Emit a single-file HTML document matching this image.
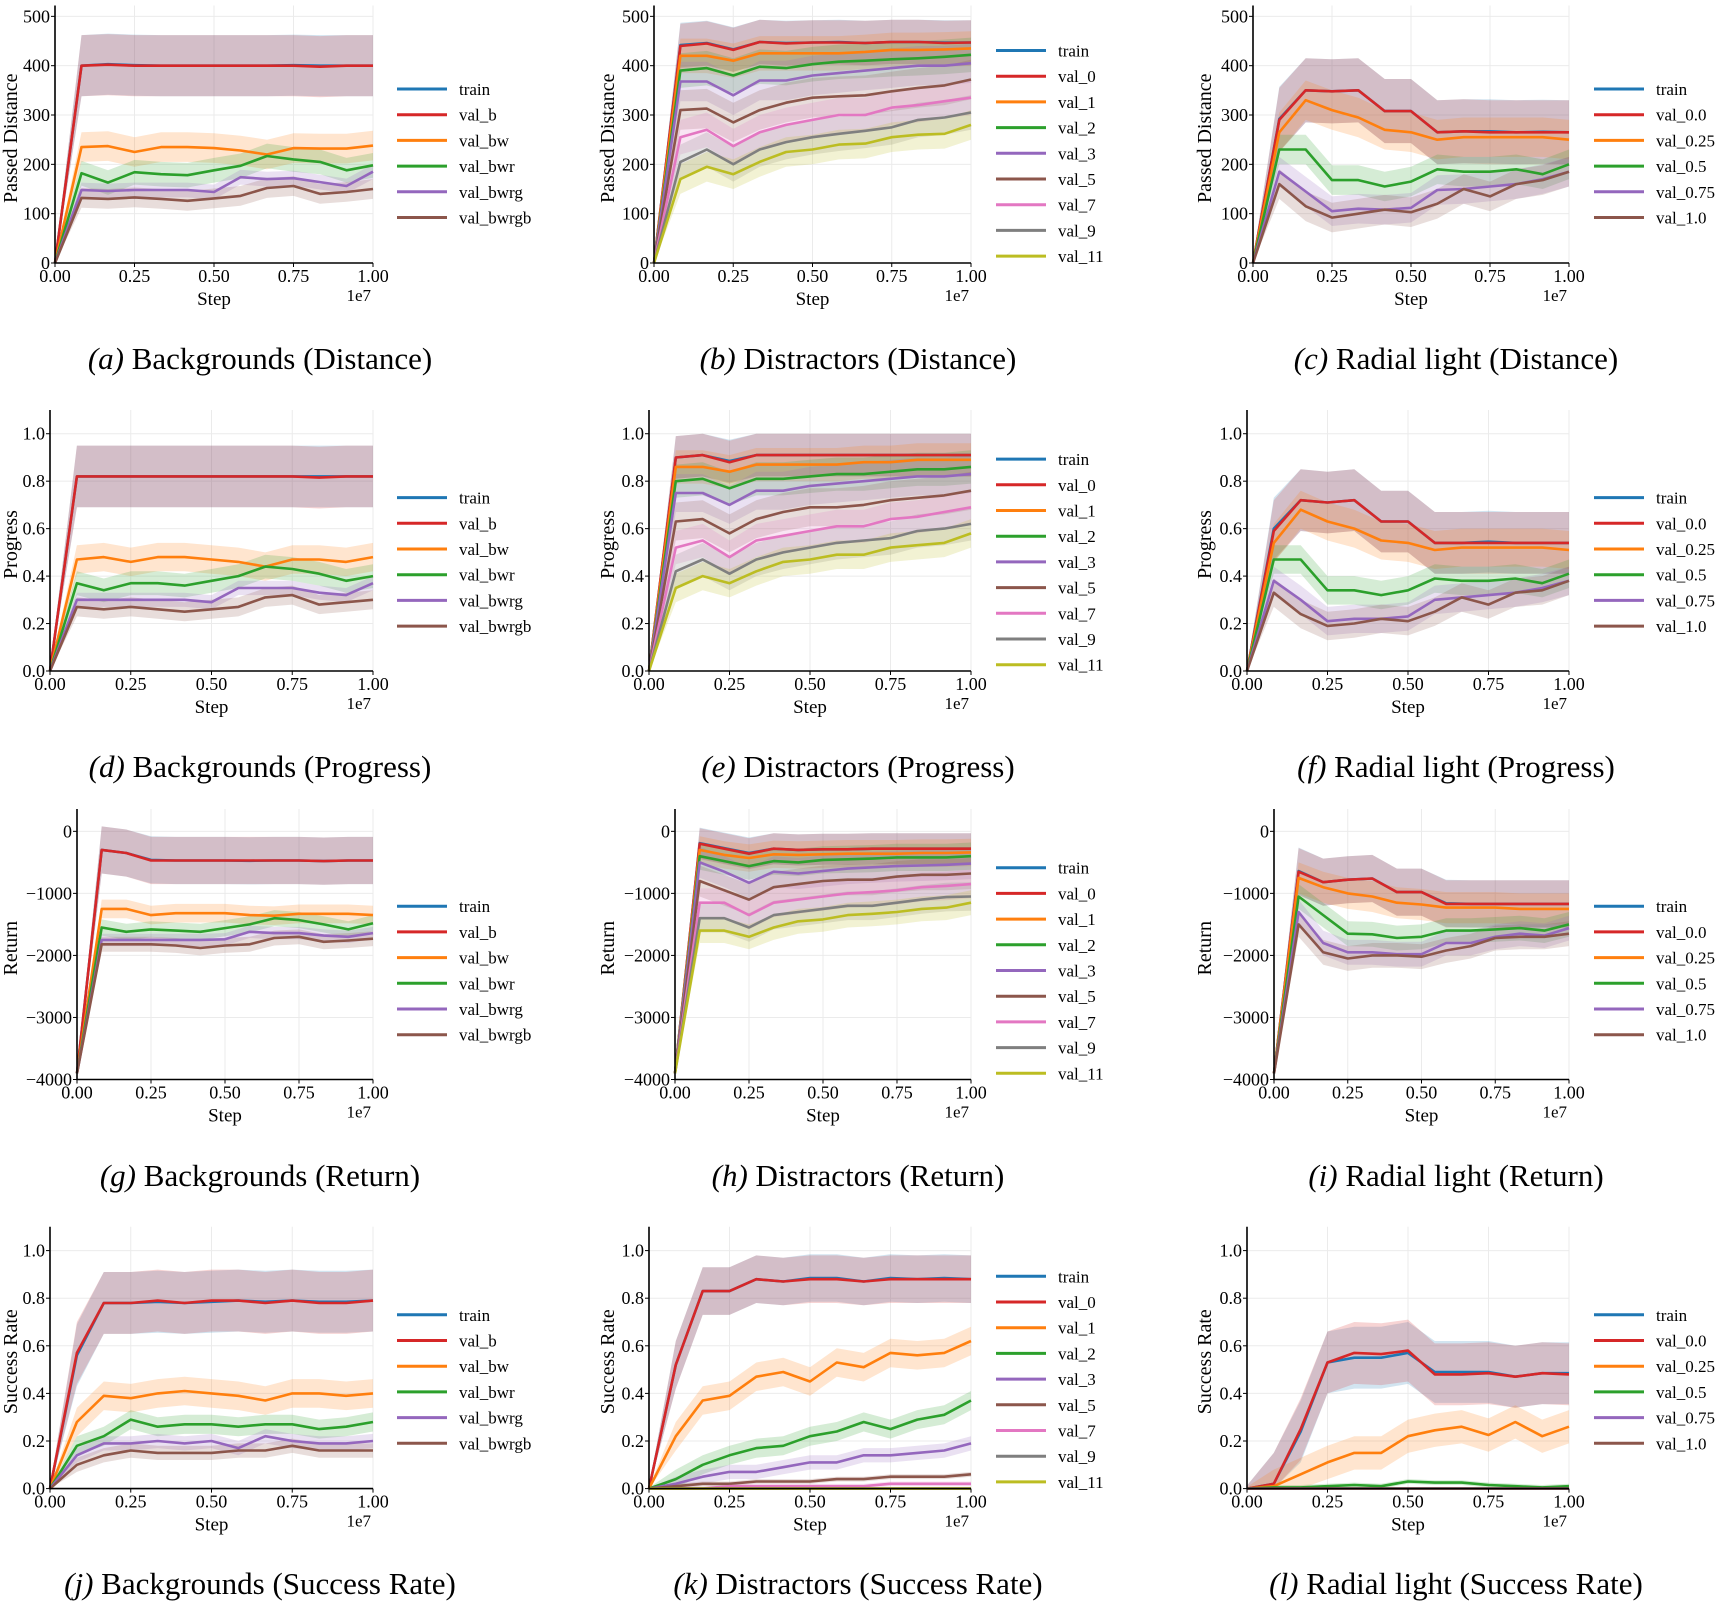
<!DOCTYPE html>
<html><head><meta charset="utf-8">
<style>
html,body{margin:0;padding:0;background:#fff;}
svg{display:block;font-family:"Liberation Serif",serif;}
</style></head>
<body>
<svg id="fig" width="1720" height="1603" viewBox="0 0 1720 1603" xmlns="http://www.w3.org/2000/svg"></svg>
<script>
const stepsX = [0,0.0833,0.1667,0.25,0.3333,0.4167,0.5,0.5833,0.6667,0.75,0.8333,0.9167,1.0];
const bgNames = ['train','val_b','val_bw','val_bwr','val_bwrg','val_bwrgb'];
const dsNames = ['train','val_0','val_1','val_2','val_3','val_5','val_7','val_9','val_11'];
const rlNames = ['train','val_0.0','val_0.25','val_0.5','val_0.75','val_1.0'];

// (a) Backgrounds distance
const aVals = [
 [0,400,403,401,400,400,400,400,400,401,400,400,400],
 [0,400,402,400,400,400,400,400,400,400,398,400,400],
 [0,235,237,225,235,235,233,228,220,233,232,232,238],
 [0,182,163,184,180,178,188,197,217,210,205,188,198],
 [0,148,146,148,148,148,144,174,170,172,164,156,185],
 [0,132,130,133,130,126,131,136,152,156,140,144,150]];
const aBand = [62,62,30,25,15,20];
// (b) Distractors distance
const bVals = [
 [0,442,446,433,448,446,447,448,446,448,448,447,447],
 [0,440,445,432,448,445,447,447,446,448,448,446,447],
 [0,420,420,410,425,425,425,425,428,432,432,433,435],
 [0,390,395,380,398,395,403,408,410,413,415,418,422],
 [0,368,368,340,370,370,380,385,390,395,400,400,405],
 [0,310,313,285,310,325,335,338,340,348,355,360,372],
 [0,255,270,237,265,280,290,300,300,315,320,328,335],
 [0,205,230,200,230,245,255,262,268,275,290,295,305],
 [0,170,195,180,205,225,230,240,242,255,260,262,280]];
const bBand = [45,45,35,35,40,40,35,35,30];
// (c) Radial distance
const cVals = [
 [0,292,350,348,350,308,308,265,267,267,265,266,265],
 [0,290,350,348,350,308,308,265,267,265,265,265,265],
 [0,265,330,310,295,270,265,250,255,255,255,255,250],
 [0,230,230,168,168,155,165,190,185,185,190,180,200],
 [0,185,145,105,110,108,112,148,150,155,160,170,185],
 [0,160,115,92,100,108,103,120,150,135,160,168,185]];
const cBand = [65,65,40,30,30,30];
// (d) Backgrounds progress
const dVals = [
 [0,0.82,0.82,0.82,0.82,0.82,0.82,0.82,0.82,0.82,0.82,0.82,0.82],
 [0,0.82,0.82,0.82,0.82,0.82,0.82,0.82,0.82,0.82,0.815,0.82,0.82],
 [0,0.47,0.48,0.46,0.48,0.48,0.47,0.46,0.44,0.47,0.47,0.46,0.48],
 [0,0.37,0.34,0.37,0.37,0.36,0.38,0.40,0.44,0.43,0.41,0.38,0.40],
 [0,0.30,0.30,0.30,0.30,0.30,0.29,0.35,0.35,0.35,0.33,0.32,0.37],
 [0,0.27,0.26,0.27,0.26,0.25,0.26,0.27,0.31,0.32,0.28,0.29,0.30]];
const dBand = [0.13,0.13,0.06,0.05,0.03,0.04];
// (e) Distractors progress
const eVals = [
 [0,0.90,0.91,0.885,0.91,0.91,0.91,0.91,0.91,0.91,0.91,0.91,0.91],
 [0,0.90,0.91,0.88,0.91,0.91,0.91,0.91,0.91,0.91,0.91,0.91,0.91],
 [0,0.86,0.86,0.84,0.87,0.87,0.87,0.87,0.88,0.88,0.89,0.89,0.89],
 [0,0.80,0.81,0.77,0.81,0.81,0.82,0.83,0.83,0.84,0.85,0.85,0.86],
 [0,0.75,0.75,0.70,0.76,0.76,0.78,0.79,0.80,0.81,0.82,0.82,0.83],
 [0,0.63,0.64,0.58,0.64,0.67,0.69,0.69,0.70,0.72,0.73,0.74,0.76],
 [0,0.52,0.55,0.48,0.55,0.57,0.59,0.61,0.61,0.64,0.65,0.67,0.69],
 [0,0.42,0.47,0.41,0.47,0.50,0.52,0.54,0.55,0.56,0.59,0.60,0.62],
 [0,0.35,0.40,0.37,0.42,0.46,0.47,0.49,0.49,0.52,0.53,0.54,0.58]];
const eBand = [0.09,0.09,0.07,0.07,0.08,0.08,0.07,0.07,0.06];
// (f) Radial progress
const fVals = [
 [0,0.60,0.72,0.71,0.72,0.63,0.63,0.54,0.54,0.545,0.54,0.54,0.54],
 [0,0.59,0.72,0.71,0.72,0.63,0.63,0.54,0.54,0.54,0.54,0.54,0.54],
 [0,0.54,0.68,0.63,0.60,0.55,0.54,0.51,0.52,0.52,0.52,0.52,0.51],
 [0,0.47,0.47,0.34,0.34,0.32,0.34,0.39,0.38,0.38,0.39,0.37,0.41],
 [0,0.38,0.30,0.21,0.22,0.22,0.23,0.30,0.31,0.32,0.33,0.35,0.38],
 [0,0.33,0.24,0.19,0.20,0.22,0.21,0.25,0.31,0.28,0.33,0.34,0.38]];
const fBand = [0.13,0.13,0.08,0.06,0.06,0.06];
// (g) Backgrounds return
const gVals = [
 [-3900,-300,-350,-460,-470,-470,-470,-475,-470,-470,-480,-470,-470],
 [-3900,-300,-350,-470,-470,-470,-470,-470,-470,-470,-480,-470,-470],
 [-3900,-1250,-1250,-1350,-1320,-1320,-1320,-1350,-1360,-1330,-1330,-1330,-1350],
 [-3900,-1550,-1620,-1580,-1600,-1620,-1560,-1500,-1400,-1430,-1500,-1580,-1480],
 [-3900,-1750,-1750,-1750,-1750,-1750,-1740,-1620,-1640,-1640,-1680,-1700,-1640],
 [-3900,-1820,-1820,-1820,-1840,-1880,-1840,-1820,-1720,-1700,-1780,-1760,-1730]];
const gBand = [380,380,150,130,100,120];
// (h) Distractors return
const hVals = [
 [-3900,-190,-270,-350,-280,-300,-290,-290,-280,-280,-280,-280,-280],
 [-3900,-200,-280,-360,-280,-300,-290,-290,-280,-280,-280,-280,-280],
 [-3900,-300,-380,-430,-370,-380,-370,-360,-360,-360,-350,-350,-340],
 [-3900,-400,-480,-560,-480,-500,-460,-450,-440,-420,-420,-420,-400],
 [-3900,-500,-650,-830,-650,-680,-640,-600,-580,-560,-550,-540,-520],
 [-3900,-800,-950,-1100,-900,-850,-800,-780,-780,-730,-700,-700,-680],
 [-3900,-1150,-1150,-1350,-1150,-1100,-1050,-1000,-980,-950,-900,-880,-850],
 [-3900,-1400,-1400,-1550,-1350,-1300,-1250,-1200,-1200,-1150,-1100,-1060,-1050],
 [-3900,-1600,-1600,-1700,-1550,-1450,-1420,-1350,-1330,-1300,-1250,-1230,-1150]];
const hBand = [250,250,220,220,250,250,230,230,200];
// (i) Radial return
const iVals = [
 [-3900,-640,-820,-780,-760,-980,-980,-1160,-1170,-1170,-1170,-1170,-1170],
 [-3900,-650,-820,-780,-760,-980,-980,-1170,-1170,-1170,-1170,-1170,-1170],
 [-3900,-750,-900,-1000,-1050,-1150,-1180,-1230,-1230,-1230,-1250,-1250,-1250],
 [-3900,-1050,-1350,-1650,-1660,-1720,-1700,-1600,-1600,-1580,-1560,-1600,-1500],
 [-3900,-1300,-1800,-1950,-1950,-1980,-1980,-1800,-1800,-1700,-1650,-1680,-1560],
 [-3900,-1500,-1950,-2050,-2000,-2000,-2020,-1920,-1850,-1720,-1700,-1700,-1650]];
const iBand = [380,380,250,200,200,200];
// (j) Backgrounds success
const jVals = [
 [0,0.56,0.78,0.78,0.785,0.78,0.785,0.79,0.785,0.79,0.785,0.785,0.79],
 [0,0.57,0.78,0.78,0.79,0.78,0.79,0.79,0.78,0.79,0.78,0.78,0.79],
 [0,0.28,0.39,0.38,0.40,0.41,0.40,0.39,0.37,0.40,0.40,0.39,0.40],
 [0,0.18,0.22,0.29,0.26,0.27,0.27,0.26,0.27,0.27,0.25,0.26,0.28],
 [0,0.14,0.19,0.19,0.20,0.19,0.20,0.17,0.22,0.20,0.19,0.19,0.20],
 [0,0.10,0.14,0.16,0.15,0.15,0.15,0.16,0.16,0.18,0.16,0.16,0.16]];
const jBand = [0.13,0.13,0.06,0.04,0.03,0.03];
// (k) Distractors success
const kVals = [
 [0,0.52,0.83,0.83,0.88,0.87,0.885,0.885,0.87,0.885,0.88,0.885,0.88],
 [0,0.52,0.83,0.83,0.88,0.87,0.88,0.88,0.87,0.88,0.88,0.88,0.88],
 [0,0.22,0.37,0.39,0.47,0.49,0.45,0.53,0.51,0.57,0.56,0.57,0.62],
 [0,0.04,0.10,0.14,0.17,0.18,0.22,0.24,0.28,0.25,0.29,0.31,0.37],
 [0,0.02,0.05,0.07,0.07,0.09,0.11,0.11,0.14,0.14,0.15,0.16,0.19],
 [0,0.01,0.02,0.02,0.03,0.03,0.03,0.04,0.04,0.05,0.05,0.05,0.06],
 [0,0,0,0.01,0.01,0.01,0.01,0.01,0.01,0.02,0.02,0.02,0.02],
 [0,0,0,0,0,0,0,0,0,0,0,0,0],
 [0,0,0,0,0,0,0,0,0,0,0,0,0]];
const kBand = [0.1,0.1,0.06,0.04,0.03,0.01,0.01,0,0];
// (l) Radial success
const lVals = [
 [0,0.02,0.24,0.53,0.55,0.55,0.57,0.49,0.49,0.49,0.47,0.485,0.485],
 [0,0.02,0.25,0.53,0.57,0.565,0.58,0.48,0.48,0.485,0.47,0.485,0.48],
 [0,0.01,0.06,0.11,0.15,0.15,0.22,0.245,0.26,0.225,0.28,0.22,0.26],
 [0,0.005,0.005,0.01,0.015,0.01,0.03,0.025,0.025,0.015,0.01,0.005,0.01],
 [0,0,0,0,0,0,0,0,0,0,0,0,0],
 [0,0,0,0,0,0,0,0,0,0,0,0,0]];
const lBand = [0.13,0.13,0.07,0.01,0,0];

const distTicks = [0,100,200,300,400,500];
const fracTicks = [0,0.2,0.4,0.6,0.8,1.0];
const retTicks = [-4000,-3000,-2000,-1000,0];
const xTicks = [0,0.25,0.5,0.75,1.0];
const colors = ['#1f77b4','#d62728','#ff7f0e','#2ca02c','#9467bd','#8c564b','#e377c2','#7f7f7f','#bcbd22'];

const NS='http://www.w3.org/2000/svg';
const svg=document.getElementById('fig');
function mk(tag,attrs,parent,text){const e=document.createElementNS(NS,tag);for(const k in attrs)e.setAttribute(k,attrs[k]);if(text!==undefined)e.textContent=text;(parent||svg).appendChild(e);return e;}

const rowOff=[0,408.6,817.2,1225.8];
const panels=[
 {id:'a',letter:'a',title:'Backgrounds (Distance)',names:bgNames,vals:aVals,band:aBand,ticks:distTicks,ymin:0,ymax:522,x0:55,x1:373,yb:263,yt:5.5,ylab:'Passed Distance',fmt:v=>String(v)},
 {id:'b',letter:'b',title:'Distractors (Distance)',names:dsNames,vals:bVals,band:bBand,ticks:distTicks,ymin:0,ymax:522,x0:654,x1:971,yb:263,yt:5.5,ylab:'Passed Distance',fmt:v=>String(v)},
 {id:'c',letter:'c',title:'Radial light (Distance)',names:rlNames,vals:cVals,band:cBand,ticks:distTicks,ymin:0,ymax:522,x0:1253,x1:1569,yb:263,yt:5.5,ylab:'Passed Distance',fmt:v=>String(v)},
 {id:'d',letter:'d',title:'Backgrounds (Progress)',names:bgNames,vals:dVals,band:dBand,ticks:fracTicks,ymin:0,ymax:1.1,x0:50,x1:373,yb:671,yt:410,ylab:'Progress',fmt:v=>v.toFixed(1)},
 {id:'e',letter:'e',title:'Distractors (Progress)',names:dsNames,vals:eVals,band:eBand,ticks:fracTicks,ymin:0,ymax:1.1,x0:649,x1:971,yb:671,yt:410,ylab:'Progress',fmt:v=>v.toFixed(1)},
 {id:'f',letter:'f',title:'Radial light (Progress)',names:rlNames,vals:fVals,band:fBand,ticks:fracTicks,ymin:0,ymax:1.1,x0:1247,x1:1569,yb:671,yt:410,ylab:'Progress',fmt:v=>v.toFixed(1)},
 {id:'g',letter:'g',title:'Backgrounds (Return)',names:bgNames,vals:gVals,band:gBand,ticks:retTicks,ymin:-4000,ymax:360,x0:77,x1:373,yb:1079.5,yt:809,ylab:'Return',fmt:v=>v<0?'\u2212'+(-v):String(v)},
 {id:'h',letter:'h',title:'Distractors (Return)',names:dsNames,vals:hVals,band:hBand,ticks:retTicks,ymin:-4000,ymax:360,x0:675,x1:971,yb:1079.5,yt:809,ylab:'Return',fmt:v=>v<0?'\u2212'+(-v):String(v)},
 {id:'i',letter:'i',title:'Radial light (Return)',names:rlNames,vals:iVals,band:iBand,ticks:retTicks,ymin:-4000,ymax:360,x0:1274,x1:1569,yb:1079.5,yt:809,ylab:'Return',fmt:v=>v<0?'\u2212'+(-v):String(v)},
 {id:'j',letter:'j',title:'Backgrounds (Success Rate)',names:bgNames,vals:jVals,band:jBand,ticks:fracTicks,ymin:0,ymax:1.1,x0:50,x1:373,yb:1488.6,yt:1226.8,ylab:'Success Rate',fmt:v=>v.toFixed(1)},
 {id:'k',letter:'k',title:'Distractors (Success Rate)',names:dsNames,vals:kVals,band:kBand,ticks:fracTicks,ymin:0,ymax:1.1,x0:649,x1:971,yb:1488.6,yt:1226.8,ylab:'Success Rate',fmt:v=>v.toFixed(1)},
 {id:'l',letter:'l',title:'Radial light (Success Rate)',names:rlNames,vals:lVals,band:lBand,ticks:fracTicks,ymin:0,ymax:1.1,x0:1247,x1:1569,yb:1488.6,yt:1226.8,ylab:'Success Rate',fmt:v=>v.toFixed(1)}
];
const capY=[369,777,1186,1594];
const capX=[260,858,1456];
const ylabX=[11,608,1205];

panels.forEach((p,pi)=>{
 const r=Math.floor(pi/3),c=pi%3;
 const g=mk('g',{});
 
 
 const X=v=>p.x0+(p.x1-p.x0)*v;
 const Y=v=>p.yb-(p.yb-p.yt)*(v-p.ymin)/(p.ymax-p.ymin);
 xTicks.forEach(t=>{const l=mk('line',{x1:X(t),x2:X(t),y1:p.yt,y2:p.yb,stroke:'#ebebeb','stroke-width':1},g);});
 p.ticks.forEach(t=>{const l=mk('line',{x1:p.x0,x2:p.x1,y1:Y(t),y2:Y(t),stroke:'#ebebeb','stroke-width':1},g);});
 p.vals.forEach((vs,si)=>{
  const w=p.band[si]; if(!w) return;
  let d='';
  vs.forEach((v,i)=>{d+=(i?'L':'M')+X(stepsX[i]).toFixed(1)+','+Y(Math.min(p.ymax,v+w*(i?1:0.1))).toFixed(1);});
  for(let i=vs.length-1;i>=0;i--){d+='L'+X(stepsX[i]).toFixed(1)+','+Y(Math.max(p.ymin,vs[i]-w*(i?1:0.1))).toFixed(1);}
  const b=mk('path',{d:d+'Z',fill:colors[si],'fill-opacity':0.2,stroke:'none'},g);
  
  
 });
 p.vals.forEach((vs,si)=>{
  const pts=vs.map((v,i)=>X(stepsX[i]).toFixed(1)+','+Y(v).toFixed(1)).join(' ');
  const l=mk('polyline',{points:pts,fill:'none',stroke:colors[si],'stroke-width':2.6,'stroke-linejoin':'round'},g);
  
  
 });
 const sp=mk('path',{d:`M${p.x0},${p.yt}L${p.x0},${p.yb}L${p.x1},${p.yb}`,fill:'none',stroke:'#000','stroke-width':1.6},g);
 
 
 xTicks.forEach(t=>{
  mk('line',{x1:X(t),x2:X(t),y1:p.yb,y2:p.yb+4,stroke:'#000','stroke-width':1},g);
  const tx=mk('text',{x:X(t),y:p.yb+19,'font-size':18,'text-anchor':'middle',fill:'#000'},g,t.toFixed(2));
  
  
 });
 p.ticks.forEach(t=>{
  mk('line',{x1:p.x0-4,x2:p.x0,y1:Y(t),y2:Y(t),stroke:'#000','stroke-width':1},g);
  const ty=mk('text',{x:p.x0-5,y:Y(t)+6,'font-size':18,'text-anchor':'end',fill:'#000'},g,p.fmt(t));
  
  
 });
 const xl=mk('text',{x:(p.x0+p.x1)/2,y:p.yb+42,'font-size':19,'text-anchor':'middle'},g,'Step');
 
 
 const ex=mk('text',{x:p.x1-2,y:p.yb+38,'font-size':17,'text-anchor':'end'},g,'1e7');
 
 
 const yc=(p.yt+p.yb)/2+4;
 const yl=mk('text',{x:ylabX[c],y:yc,'font-size':20,'text-anchor':'middle',transform:`rotate(-90 ${ylabX[c]} ${yc})`,'dominant-baseline':'central'},g,p.ylab);
 
 
 const ly0=(p.names.length===9?50.5:89)+rowOff[r];
 const lx=[397,996,1594][c];
 p.names.forEach((n,si)=>{
  const yy=ly0+si*25.7;
  const le=mk('g',{},g);
  
  
  mk('line',{x1:lx,x2:lx+50,y1:yy,y2:yy,stroke:colors[si],'stroke-width':3},le);
  mk('text',{x:lx+62,y:yy+6,'font-size':17},le,n);
 });
 const cap=mk('text',{x:capX[c],y:capY[r],'font-size':31,'text-anchor':'middle'},g);
 
 
 mk('tspan',{'font-style':'italic'},cap,'('+p.letter+')');
 mk('tspan',{},cap,' '+p.title);
});
</script>
</body></html>
